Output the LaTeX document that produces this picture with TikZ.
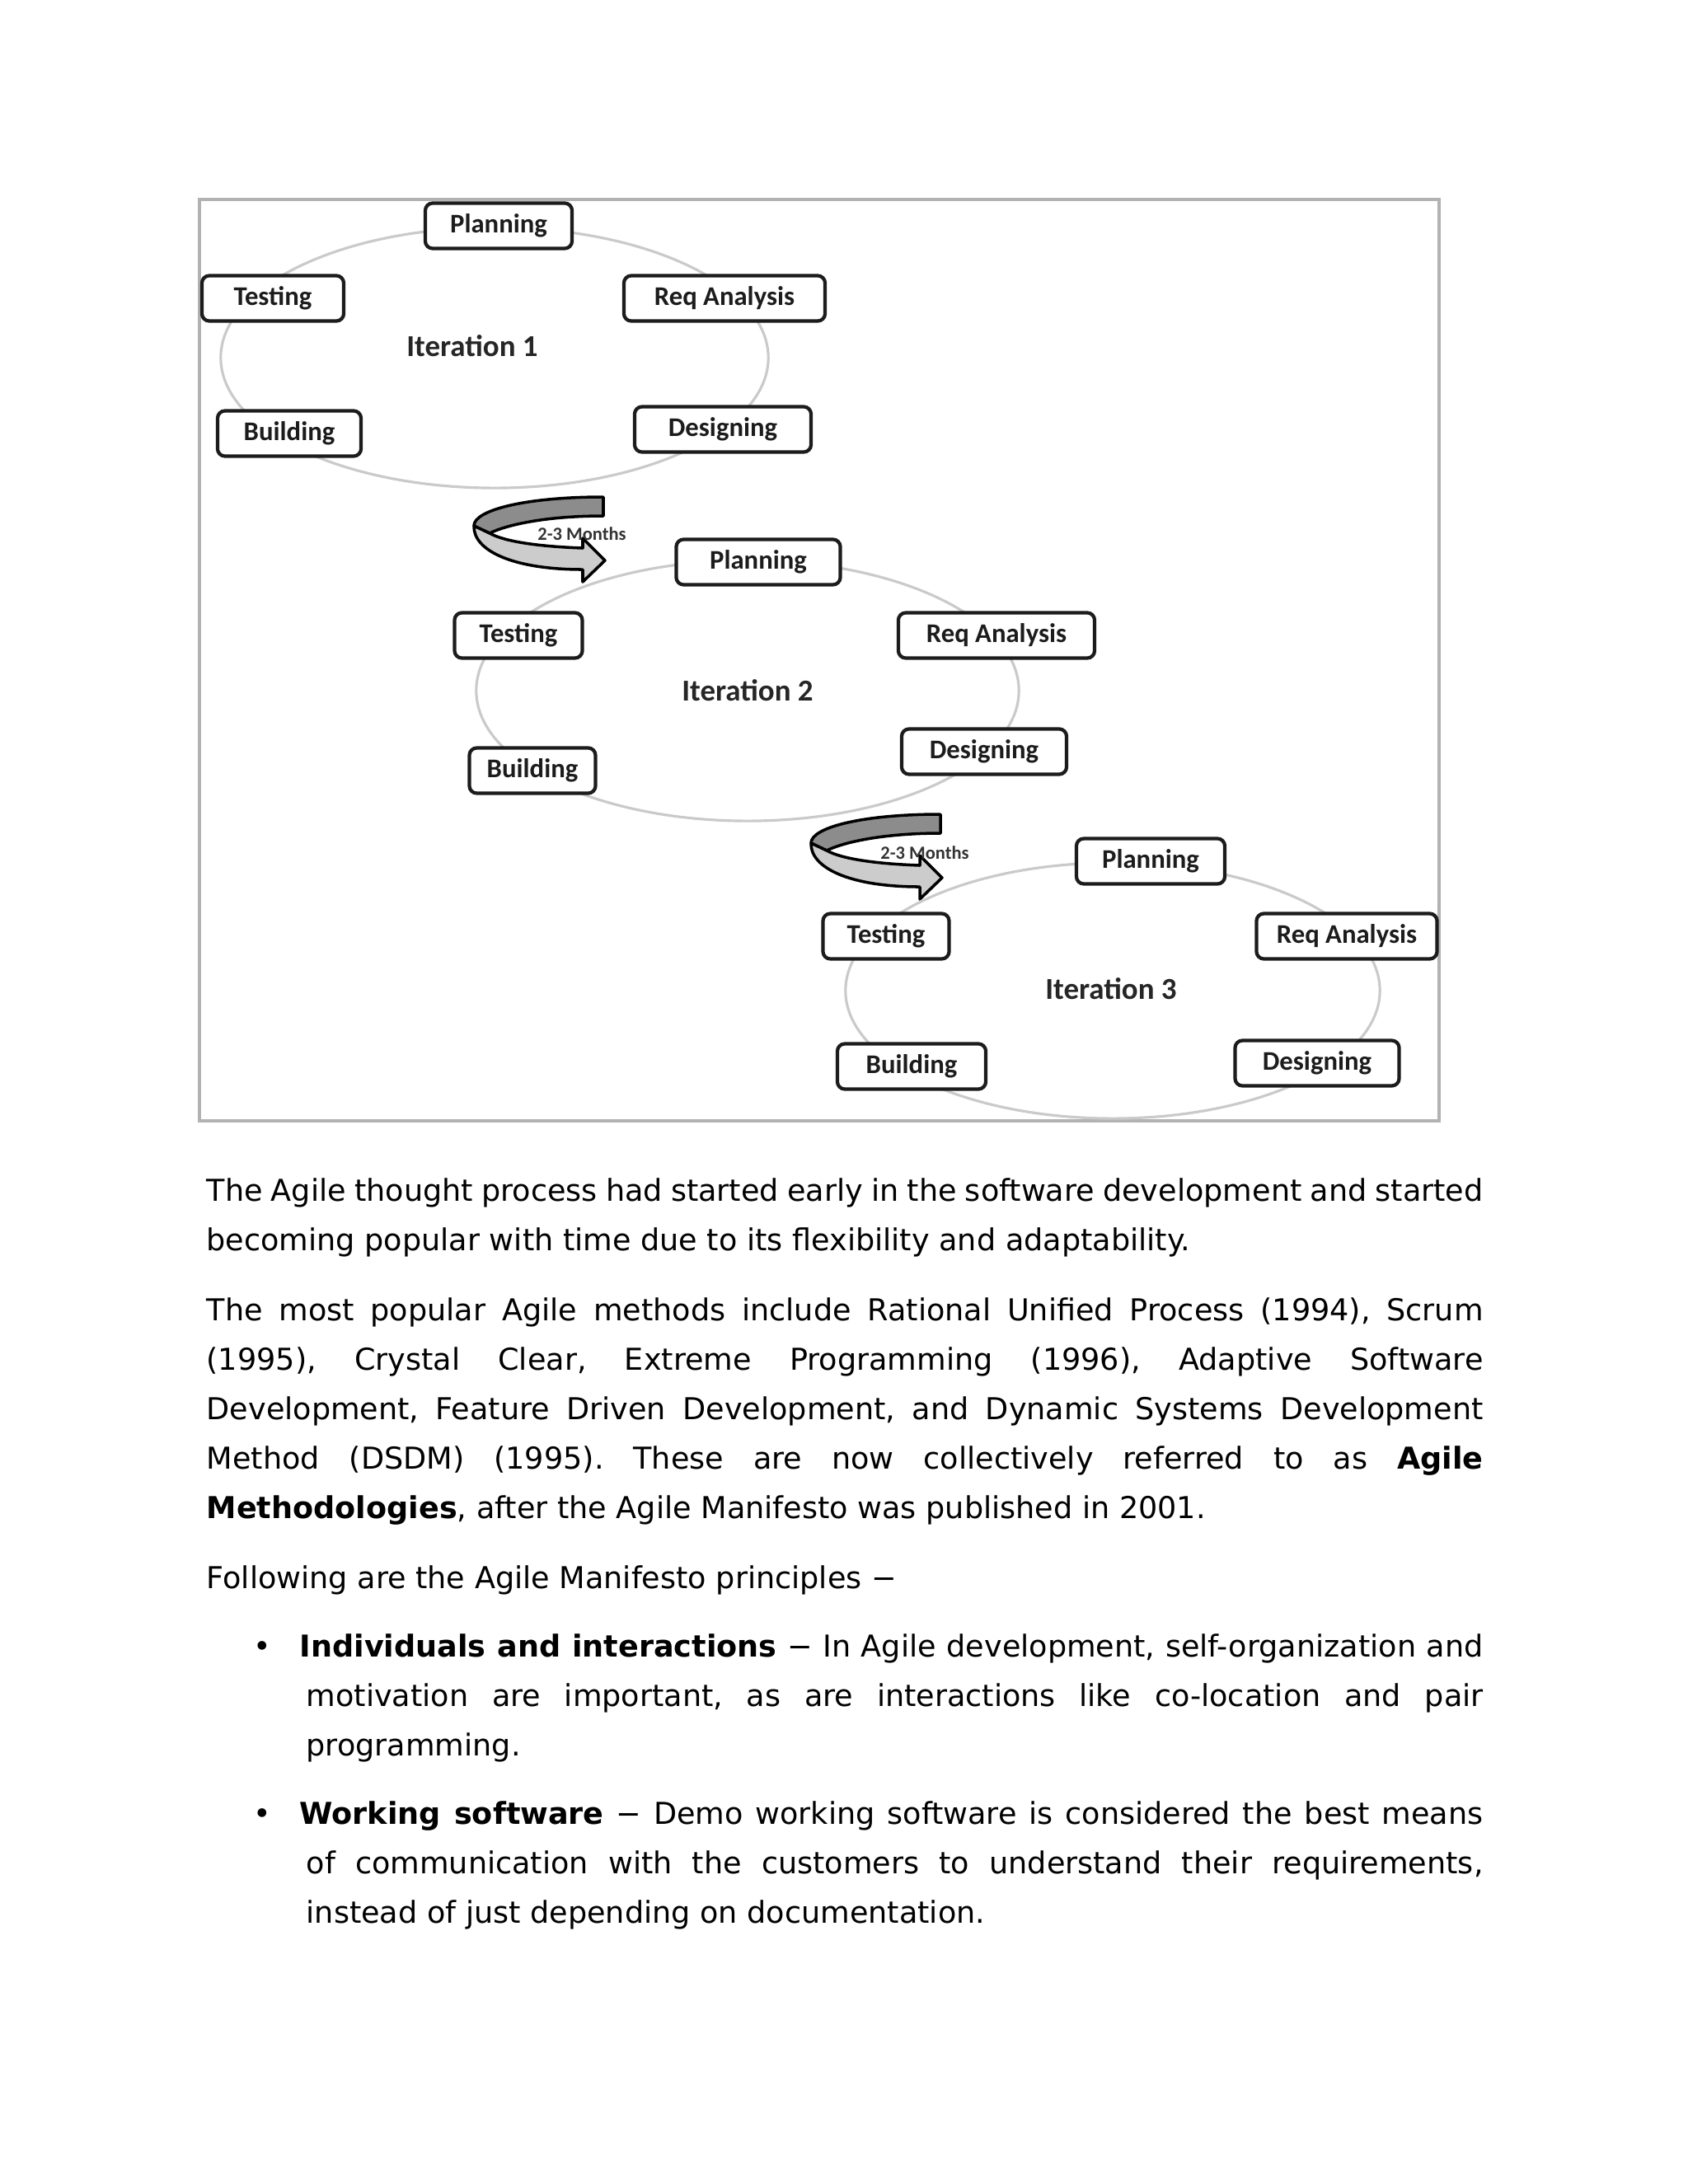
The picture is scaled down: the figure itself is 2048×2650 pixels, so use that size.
\documentclass[tikz,border=0pt]{standalone}
\usepackage{fontspec}
\setmainfont{DejaVu Sans}
\newfontfamily\calib{Carlito}
\definecolor{inkbox}{RGB}{28,28,28}
\definecolor{ringgray}{RGB}{202,202,202}
\definecolor{framegray}{RGB}{178,178,178}
\definecolor{turndark}{RGB}{140,140,140}
\definecolor{turnlight}{RGB}{204,204,204}
\tolerance=10000
\hyphenpenalty=10000
\exhyphenpenalty=10000
\frenchspacing

\begin{document}
\begin{tikzpicture}[x=0.01cm, y=-0.01cm,
          stage/.style={draw=inkbox, line width=1.2pt, rounded corners=0.09cm, fill=white, minimum height=0.55cm,
                        inner sep=0pt, text=inkbox, font=\calib\bfseries\fontsize{9.3}{10}\selectfont},
          ring/.style={draw=ringgray, line width=0.9pt},
          itlabel/.style={text=black!85, font=\calib\bfseries\fontsize{10.5}{12}\selectfont},
          monthlabel/.style={text=black!80, inner sep=0pt, font=\calib\bfseries\fontsize{6.4}{7}\selectfont},
          para/.style={anchor=base west, inner sep=0pt, text width=15.48cm, align=justify,
                       font=\fontsize{10.4}{17.07}\selectfont},
          item/.style={para, text width=14.27cm},
          dot/.style={anchor=base, inner sep=0pt, font=\fontsize{10.4}{17.07}\selectfont},
          pics/monthturn/.style={code={
            \draw[fill=turndark, line width=1pt, line join=round] (0,0) .. controls (-95,0) and (-157,16) .. (-157,35)
                -- (-138,44) .. controls (-118,34) and (-70,23) .. (0,23) -- cycle;
            \draw[fill=turnlight, line width=1pt, line join=round] (-157,35) .. controls (-158,65) and (-110,88) .. (-25,88)
                -- (-25,103) -- (2,77) -- (-25,50) -- (-25,62) .. controls (-80,60) and (-120,54) .. (-138,44) -- cycle;
          }}]
        \useasboundingbox (0,0) rectangle (2048,2650);
        \draw[framegray, line width=0.9pt] (242,242) rectangle (1746,1360);

        % iteration 1
        \coordinate (c1) at (600,434);
        \draw[ring] (c1) ellipse [x radius=3.32cm, y radius=1.58cm];
        \node[stage, minimum width=1.78cm] (plan1) at (605,274) {Planning};
        \node[stage, minimum width=1.72cm] (test1) at (331,362) {Testing};
        \node[stage, minimum width=2.44cm] (req1)  at (879,362) {Req Analysis};
        \node[stage, minimum width=1.74cm] (build1) at (351,526) {Building};
        \node[stage, minimum width=2.14cm] (des1)  at (877,521) {Designing};
        \node[itlabel] (it1) at (573,420) {Iteration 1};

        \pic at (732,603) {monthturn};
        \node[monthlabel] (m1) at (706,648) {2-3 Months};

        % iteration 2
        \coordinate (c2) at (907,838);
        \draw[ring] (c2) ellipse [x radius=3.29cm, y radius=1.58cm];
        \node[stage, minimum width=1.99cm] (plan2) at (920,682) {Planning};
        \node[stage, minimum width=1.55cm] (test2) at (629,771) {Testing};
        \node[stage, minimum width=2.38cm] (req2)  at (1209,771) {Req Analysis};
        \node[stage, minimum width=1.53cm] (build2) at (646,935) {Building};
        \node[stage, minimum width=2.00cm] (des2)  at (1194,912) {Designing};
        \node[itlabel] (it2) at (907,838) {Iteration 2};

        \pic at (1141,988) {monthturn};
        \node[monthlabel] (m2) at (1122,1035) {2-3 Months};

        % iteration 3
        \coordinate (c3) at (1350,1202);
        \draw[ring] (c3) ellipse [x radius=3.24cm, y radius=1.55cm];
        \node[stage, minimum width=1.80cm] (plan3) at (1396,1045) {Planning};
        \node[stage, minimum width=1.53cm] (test3) at (1075,1136) {Testing};
        \node[stage, minimum width=2.19cm] (req3)  at (1634,1136) {Req Analysis};
        \node[stage, minimum width=1.80cm] (build3) at (1106,1294) {Building};
        \node[stage, minimum width=1.99cm] (des3)  at (1598,1290) {Designing};
        \node[itlabel] (it3) at (1348,1200) {Iteration 3};

        % text below
        \node[para] (txt1) at (250,1457) {The Agile thought process had started early in the software development and started\linebreak
          becoming popular with time due to its flexibility and adaptability.};
        \node[para] (txt2) at (250,1602) {The most popular Agile methods include Rational Unified Process (1994), Scrum\linebreak
          (1995), Crystal Clear, Extreme Programming (1996), Adaptive Software\linebreak
          Development, Feature Driven Development, and Dynamic Systems Development\linebreak
          Method (DSDM) (1995). These are now collectively referred to as \textbf{Agile}\linebreak
          \textbf{Methodologies}, after the Agile Manifesto was published in 2001.};
        \node[para] (txt3) at (250,1927) {Following are the Agile Manifesto principles −};
        \node[dot] (b1) at (318,2010) {•};
        \node[item] (pt1) at (371,2010) {\hspace*{-0.08cm}\textbf{Individuals and interactions} − In Agile development, self-organization and\linebreak
          motivation are important, as are interactions like co-location and pair\linebreak
          programming.};
        \node[dot] (b2) at (318,2213) {•};
        \node[item] (pt2) at (371,2213) {\hspace*{-0.08cm}\textbf{Working software} − Demo working software is considered the best means\linebreak
          of communication with the customers to understand their requirements,\linebreak
          instead of just depending on documentation.};
      \end{tikzpicture}
\end{document}
